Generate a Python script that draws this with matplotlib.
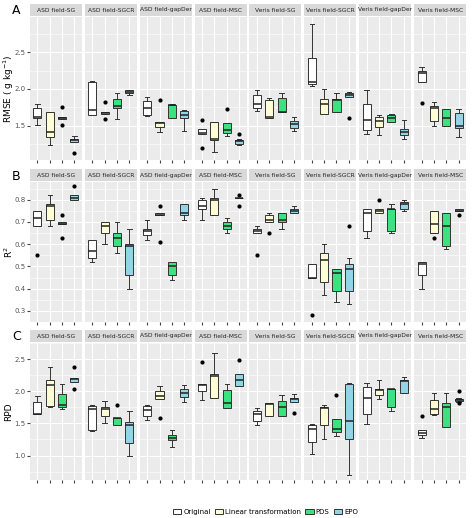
import matplotlib
matplotlib.use("Agg")
import matplotlib.pyplot as plt
from matplotlib.patches import Patch

facets = ["ASD field-SG", "ASD field-SGCR", "ASD field-gapDer", "ASD field-MSC",
          "Veris field-SG", "Veris field-SGCR", "Veris field-gapDer", "Veris field-MSC"]
methods = ["Original", "Linear transformation", "PDS", "EPO"]
colors = ["#FFFFFF", "#FFFDD6", "#3BE27F", "#93D4E6"]

# (whislo, q1, med, q3, whishi, [fliers]) per facet, per method
rmse = [
    [(1.51, 1.60, 1.61, 1.74, 1.79, []), (1.24, 1.35, 1.41, 1.68, 1.68, []),
     (1.59, 1.59, 1.60, 1.61, 1.61, [1.75, 1.51]), (1.27, 1.27, 1.30, 1.32, 1.36, [1.12])],
    [(1.64, 1.64, 1.71, 2.09, 2.11, []), (1.66, 1.66, 1.67, 1.68, 1.68, [1.82, 1.59]),
     (1.59, 1.74, 1.76, 1.86, 1.95, []), (1.91, 1.94, 1.96, 1.98, 1.99, [])],
    [(1.63, 1.64, 1.74, 1.84, 1.89, []), (1.41, 1.48, 1.53, 1.55, 1.55, [1.85]),
     (1.60, 1.60, 1.78, 1.78, 1.79, []), (1.43, 1.60, 1.65, 1.70, 1.71, [])],
    [(1.38, 1.38, 1.40, 1.45, 1.45, [1.57, 1.19]), (1.14, 1.30, 1.32, 1.55, 1.55, []),
     (1.36, 1.40, 1.44, 1.54, 1.54, [1.72]), (1.24, 1.25, 1.29, 1.30, 1.31, [1.38])],
    [(1.70, 1.74, 1.79, 1.91, 1.99, []), (1.60, 1.60, 1.61, 1.85, 1.87, []),
     (1.68, 1.68, 1.68, 1.87, 1.95, []), (1.43, 1.47, 1.52, 1.56, 1.62, [])],
    [(2.04, 2.06, 2.10, 2.42, 2.88, []), (1.66, 1.66, 1.79, 1.86, 2.00, []),
     (1.68, 1.68, 1.85, 1.86, 1.95, []), (1.89, 1.89, 1.92, 1.95, 1.96, [1.60])],
    [(1.38, 1.44, 1.57, 1.80, 1.98, []), (1.37, 1.48, 1.56, 1.62, 1.64, []),
     (1.55, 1.55, 1.60, 1.65, 1.66, []), (1.32, 1.37, 1.41, 1.45, 1.57, [])],
    [(2.10, 2.10, 2.22, 2.25, 2.30, [1.81]), (1.49, 1.56, 1.74, 1.77, 1.82, []),
     (1.49, 1.50, 1.60, 1.72, 1.72, []), (1.35, 1.47, 1.50, 1.67, 1.73, [])],
]
r2 = [
    [(0.68, 0.68, 0.72, 0.75, 0.75, [0.55]), (0.68, 0.71, 0.77, 0.78, 0.82, []),
     (0.69, 0.69, 0.69, 0.70, 0.70, [0.73, 0.63]), (0.80, 0.80, 0.81, 0.82, 0.82, [0.86])],
    [(0.52, 0.54, 0.57, 0.62, 0.62, []), (0.60, 0.65, 0.68, 0.70, 0.70, []),
     (0.56, 0.59, 0.63, 0.65, 0.70, []), (0.40, 0.46, 0.59, 0.60, 0.67, [])],
    [(0.62, 0.64, 0.66, 0.67, 0.71, []), (0.73, 0.73, 0.73, 0.74, 0.74, [0.77, 0.61]),
     (0.44, 0.46, 0.50, 0.52, 0.52, []), (0.71, 0.73, 0.74, 0.78, 0.78, [])],
    [(0.71, 0.76, 0.77, 0.80, 0.81, []), (0.73, 0.73, 0.80, 0.81, 0.85, []),
     (0.65, 0.67, 0.68, 0.70, 0.72, []), (0.81, 0.81, 0.81, 0.81, 0.81, [0.82, 0.77])],
    [(0.65, 0.65, 0.66, 0.67, 0.68, [0.55]), (0.70, 0.70, 0.71, 0.73, 0.74, [0.65]),
     (0.67, 0.70, 0.71, 0.74, 0.74, []), (0.74, 0.74, 0.75, 0.76, 0.77, [])],
    [(0.45, 0.45, 0.45, 0.51, 0.51, [0.28]), (0.37, 0.43, 0.53, 0.56, 0.60, []),
     (0.34, 0.39, 0.47, 0.49, 0.49, []), (0.33, 0.39, 0.49, 0.51, 0.54, [0.68])],
    [(0.63, 0.66, 0.74, 0.76, 0.76, []), (0.74, 0.74, 0.75, 0.76, 0.76, [0.80]),
     (0.65, 0.66, 0.76, 0.76, 0.78, []), (0.75, 0.76, 0.78, 0.79, 0.80, [])],
    [(0.40, 0.46, 0.51, 0.52, 0.52, []), (0.65, 0.65, 0.69, 0.75, 0.75, [0.63]),
     (0.58, 0.59, 0.68, 0.74, 0.74, []), (0.75, 0.75, 0.75, 0.76, 0.76, [0.73])],
]
rpd = [
    [(1.65, 1.65, 1.65, 1.84, 1.93, []), (1.75, 1.77, 2.09, 2.18, 2.37, []),
     (1.72, 1.75, 1.78, 1.95, 2.11, []), (2.15, 2.15, 2.19, 2.21, 2.21, [2.37, 2.04])],
    [(1.38, 1.39, 1.72, 1.77, 1.78, []), (1.50, 1.61, 1.72, 1.75, 1.85, []),
     (1.47, 1.47, 1.58, 1.59, 1.59, [1.78]), (0.99, 1.20, 1.47, 1.52, 1.70, [])],
    [(1.56, 1.62, 1.71, 1.77, 1.79, []), (1.88, 1.88, 1.93, 2.00, 2.08, [1.59]),
     (1.14, 1.24, 1.28, 1.32, 1.39, []), (1.84, 1.91, 1.97, 2.04, 2.10, [])],
    [(1.86, 2.01, 2.09, 2.11, 2.11, [2.45]), (1.89, 1.90, 2.24, 2.27, 2.60, []),
     (1.74, 1.74, 1.82, 2.02, 2.12, []), (2.08, 2.08, 2.17, 2.27, 2.27, [2.48])],
    [(1.48, 1.54, 1.65, 1.70, 1.74, []), (1.61, 1.61, 1.80, 1.82, 1.82, []),
     (1.61, 1.62, 1.75, 1.85, 1.94, []), (1.84, 1.84, 1.88, 1.90, 1.95, [1.66])],
    [(1.02, 1.21, 1.42, 1.47, 1.49, []), (1.25, 1.48, 1.74, 1.76, 1.79, []),
     (1.30, 1.36, 1.41, 1.57, 1.57, [1.94]), (0.69, 1.26, 1.54, 2.12, 2.13, [])],
    [(1.49, 1.64, 1.90, 2.06, 2.13, []), (1.88, 1.94, 2.02, 2.03, 2.17, []),
     (1.69, 1.75, 2.03, 2.03, 2.03, []), (1.97, 1.97, 2.16, 2.18, 2.22, [])],
    [(1.27, 1.32, 1.35, 1.39, 1.39, [1.62]), (1.63, 1.65, 1.73, 1.87, 1.98, []),
     (1.45, 1.45, 1.75, 1.82, 1.98, []), (1.84, 1.85, 1.87, 1.88, 1.89, [2.01, 1.81])],
]

rows = [
    ("A", rmse, r"RMSE ( g kg$^{-1}$)", (1.03, 2.98), [1.5, 2.0, 2.5]),
    ("B", r2, r"R$^2$", (0.26, 0.88), [0.3, 0.4, 0.5, 0.6, 0.7, 0.8]),
    ("C", rpd, "RPD", (0.62, 2.68), [1.0, 1.5, 2.0, 2.5]),
]

W, H = 474, 518
fig = plt.figure(figsize=(W / 100, H / 100), dpi=100)
x0, x1 = 30, 466
gap = 3
fw = (x1 - x0 - 7 * gap) / 8
row_tops = [17, 182, 343]
row_bots = [160, 322, 480]
strip_h = 12
grey = "#EBEBEB"

for (letter, data, ylab, ylim, yt), top, bot in zip(rows, row_tops, row_bots):
    for i, fac in enumerate(facets):
        left = x0 + i * (fw + gap)
        ax = fig.add_axes([left / W, 1 - bot / H, fw / W, (bot - top) / H])
        ax.set_facecolor(grey)
        stats = []
        for m in range(4):
            lo, q1, med, q3, hi, fl = data[i][m]
            stats.append(dict(whislo=lo, q1=q1, med=med, q3=q3, whishi=hi, fliers=fl))
        bp = ax.bxp(stats, positions=[1, 2, 3, 4], widths=0.65, patch_artist=True,
                    boxprops=dict(linewidth=0.7, edgecolor="#333333"),
                    medianprops=dict(color="#222222", linewidth=1.1),
                    whiskerprops=dict(color="#333333", linewidth=0.7),
                    capprops=dict(color="#333333", linewidth=0.7),
                    capwidths=0.35,
                    flierprops=dict(marker="o", markerfacecolor="black", markeredgecolor="black",
                                    markersize=2))
        for patch, c in zip(bp["boxes"], colors):
            patch.set_facecolor(c)
        ax.set_xlim(0.4, 4.6)
        ax.set_ylim(*ylim)
        ax.set_yticks(yt)
        ax.set_xticks([1, 2, 3, 4])
        ax.set_xticklabels(["", "", "", ""])
        ax.grid(True, color="white", linewidth=0.8)
        step = yt[1] - yt[0]
        ax.set_yticks([v + step / 2 for v in yt] + [yt[0] - step / 2], minor=True)
        ax.grid(True, which="minor", axis="y", color="white", linewidth=0.4)
        ax.set_axisbelow(True)
        for s in ax.spines.values():
            s.set_visible(False)
        ax.tick_params(axis="both", length=2, color="#444444", labelsize=5, labelcolor="#555555", pad=1)
        ax.tick_params(axis="y", which="minor", length=0)
        if i > 0:
            ax.tick_params(axis="y", length=0, labelleft=False)
        # facet strip
        sax = fig.add_axes([left / W, 1 - (top - 1) / H, fw / W, strip_h / H])
        sax.set_facecolor("#D9D9D9")
        sax.set_xticks([])
        sax.set_yticks([])
        for s in sax.spines.values():
            s.set_visible(False)
        sax.text(0.5, 0.5, fac, ha="center", va="center", fontsize=4.3, color="#222222",
                 transform=sax.transAxes)
    fig.text(9 / W, 1 - ((top + bot) / 2) / H, ylab, fontsize=6.5, rotation=90,
             ha="center", va="center")
    fig.text(12 / W, 1 - (top - 6) / H, letter, fontsize=9, ha="left", va="center")

handles = [Patch(facecolor=c, edgecolor="#333333", linewidth=0.7) for c in colors]
fig.legend(handles, methods, loc="center", bbox_to_anchor=(0.56, 1 - 512 / H), ncol=4,
           frameon=False, fontsize=5, handlelength=1.2, handleheight=0.8, columnspacing=0.6,
           handletextpad=0.3)

fig.savefig("out.png", dpi=100)
